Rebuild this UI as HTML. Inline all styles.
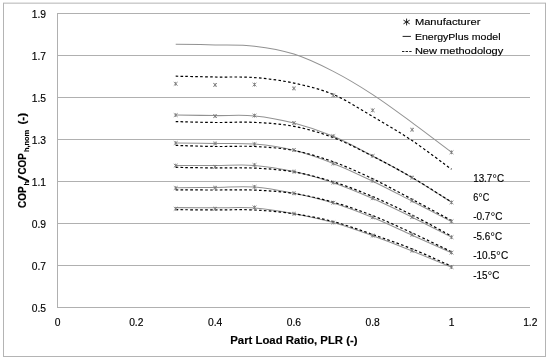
<!DOCTYPE html>
<html><head><meta charset="utf-8"><title>COP chart</title>
<style>
html,body{margin:0;padding:0;background:#fff;width:550px;height:362px;overflow:hidden}
svg{display:block}
text{font-family:"Liberation Sans",sans-serif;font-size:10.3px;fill:#000;stroke:#000;stroke-width:0.15px}
.b{font-weight:bold}
</style></head><body>
<svg width="550" height="362" viewBox="0 0 550 362">
<rect x="0" y="0" width="550" height="362" fill="#fff"/>
<rect x="3.5" y="3.15" width="542" height="353.35" fill="none" stroke="#b4b4b4" stroke-width="1"/>
<g stroke="#b0b0b0" stroke-width="1" fill="none"><path d="M57,13.5H530"/><path d="M57,55.5H530"/><path d="M57,97.5H530"/><path d="M57,139.5H530"/><path d="M57,181.5H530"/><path d="M57,223.5H530"/><path d="M57,265.5H530"/><path d="M57,307.5H530"/></g>
<path d="M57.5,13V308" stroke="#b0b0b0" stroke-width="1" fill="none"/>
<g stroke="#929292" stroke-width="1.05" fill="none"><path d="M175.70,44.20 C182.27,44.32 201.97,44.57 215.10,44.90 C228.23,45.23 241.37,44.67 254.50,46.20 C267.63,47.73 280.77,49.90 293.90,54.10 C307.03,58.30 320.17,64.65 333.30,71.40 C346.43,78.15 359.57,86.07 372.70,94.60 C385.83,103.13 398.97,112.98 412.10,122.60 C425.23,132.22 444.93,147.35 451.50,152.30"/><path d="M175.70,115.00 C182.27,115.10 201.97,115.45 215.10,115.60 C228.23,115.75 241.37,114.67 254.50,115.90 C267.63,117.13 280.77,119.60 293.90,123.00 C307.03,126.40 320.17,130.80 333.30,136.30 C346.43,141.80 359.57,149.12 372.70,156.00 C385.83,162.88 398.97,169.88 412.10,177.60 C425.23,185.32 444.93,198.18 451.50,202.30"/><path d="M175.70,143.00 C182.27,143.08 201.97,143.32 215.10,143.50 C228.23,143.68 241.37,142.98 254.50,144.10 C267.63,145.22 280.77,146.98 293.90,150.20 C307.03,153.42 320.17,158.23 333.30,163.40 C346.43,168.57 359.57,174.90 372.70,181.20 C385.83,187.50 398.97,194.47 412.10,201.20 C425.23,207.93 444.93,218.20 451.50,221.60"/><path d="M175.70,165.40 C182.27,165.42 201.97,165.50 215.10,165.50 C228.23,165.50 241.37,164.40 254.50,165.40 C267.63,166.40 280.77,168.60 293.90,171.50 C307.03,174.40 320.17,178.28 333.30,182.80 C346.43,187.32 359.57,192.87 372.70,198.60 C385.83,204.33 398.97,210.77 412.10,217.20 C425.23,223.63 444.93,233.87 451.50,237.20"/><path d="M175.70,187.80 C182.27,187.73 201.97,187.53 215.10,187.40 C228.23,187.27 241.37,186.02 254.50,187.00 C267.63,187.98 280.77,190.62 293.90,193.30 C307.03,195.98 320.17,199.05 333.30,203.10 C346.43,207.15 359.57,212.25 372.70,217.60 C385.83,222.95 398.97,229.33 412.10,235.20 C425.23,241.07 444.93,249.87 451.50,252.80"/><path d="M175.70,207.60 C182.27,207.63 201.97,207.73 215.10,207.80 C228.23,207.87 241.37,207.02 254.50,208.00 C267.63,208.98 280.77,211.27 293.90,213.70 C307.03,216.13 320.17,218.92 333.30,222.60 C346.43,226.28 359.57,231.07 372.70,235.80 C385.83,240.53 398.97,245.77 412.10,251.00 C425.23,256.23 444.93,264.50 451.50,267.20"/></g>
<g stroke="#000" stroke-width="1.2" fill="none" stroke-dasharray="2.6,2.3"><path d="M175.70,76.20 C182.27,76.33 201.97,76.77 215.10,77.00 C228.23,77.23 241.37,76.58 254.50,77.60 C267.63,78.62 280.77,80.28 293.90,83.10 C307.03,85.92 320.17,88.93 333.30,94.50 C346.43,100.07 359.57,108.82 372.70,116.50 C385.83,124.18 398.97,131.80 412.10,140.60 C425.23,149.40 444.93,164.52 451.50,169.30"/><path d="M175.70,121.60 C182.27,121.75 201.97,122.37 215.10,122.50 C228.23,122.63 241.37,121.77 254.50,122.40 C267.63,123.03 280.77,123.77 293.90,126.30 C307.03,128.83 320.17,132.62 333.30,137.60 C346.43,142.58 359.57,149.55 372.70,156.20 C385.83,162.85 398.97,169.87 412.10,177.50 C425.23,185.13 444.93,197.92 451.50,202.00"/><path d="M175.70,145.40 C182.27,145.58 201.97,146.32 215.10,146.50 C228.23,146.68 241.37,145.83 254.50,146.50 C267.63,147.17 280.77,147.95 293.90,150.50 C307.03,153.05 320.17,157.08 333.30,161.80 C346.43,166.52 359.57,172.55 372.70,178.80 C385.83,185.05 398.97,192.33 412.10,199.30 C425.23,206.27 444.93,217.05 451.50,220.60"/><path d="M175.70,167.40 C182.27,167.48 201.97,167.78 215.10,167.90 C228.23,168.02 241.37,167.43 254.50,168.10 C267.63,168.77 280.77,169.62 293.90,171.90 C307.03,174.18 320.17,177.68 333.30,181.80 C346.43,185.92 359.57,191.07 372.70,196.60 C385.83,202.13 398.97,208.40 412.10,215.00 C425.23,221.60 444.93,232.67 451.50,236.20"/><path d="M175.70,189.90 C182.27,189.92 201.97,189.97 215.10,190.00 C228.23,190.03 241.37,189.52 254.50,190.10 C267.63,190.68 280.77,191.48 293.90,193.50 C307.03,195.52 320.17,198.52 333.30,202.20 C346.43,205.88 359.57,210.48 372.70,215.60 C385.83,220.72 398.97,226.87 412.10,232.90 C425.23,238.93 444.93,248.65 451.50,251.80"/><path d="M175.70,209.70 C182.27,209.73 201.97,209.85 215.10,209.90 C228.23,209.95 241.37,209.35 254.50,210.00 C267.63,210.65 280.77,211.87 293.90,213.80 C307.03,215.73 320.17,218.15 333.30,221.60 C346.43,225.05 359.57,229.95 372.70,234.50 C385.83,239.05 398.97,243.62 412.10,248.90 C425.23,254.18 444.93,263.32 451.50,266.20"/></g>
<g stroke="#7a7a7a" stroke-width="0.9" fill="none"><path d="M173.80,82.00 l3.8,3.6 M177.60,82.00 l-3.8,3.6 M175.70,81.90 v3.8"/><path d="M213.20,83.10 l3.8,3.6 M217.00,83.10 l-3.8,3.6 M215.10,83.00 v3.8"/><path d="M252.60,82.80 l3.8,3.6 M256.40,82.80 l-3.8,3.6 M254.50,82.70 v3.8"/><path d="M292.00,86.60 l3.8,3.6 M295.80,86.60 l-3.8,3.6 M293.90,86.50 v3.8"/><path d="M331.40,93.50 l3.8,3.6 M335.20,93.50 l-3.8,3.6 M333.30,93.40 v3.8"/><path d="M370.80,108.50 l3.8,3.6 M374.60,108.50 l-3.8,3.6 M372.70,108.40 v3.8"/><path d="M410.20,127.90 l3.8,3.6 M414.00,127.90 l-3.8,3.6 M412.10,127.80 v3.8"/><path d="M449.60,150.50 l3.8,3.6 M453.40,150.50 l-3.8,3.6 M451.50,150.40 v3.8"/><path d="M173.80,113.30 l3.8,3.6 M177.60,113.30 l-3.8,3.6 M175.70,113.20 v3.8"/><path d="M213.20,114.30 l3.8,3.6 M217.00,114.30 l-3.8,3.6 M215.10,114.20 v3.8"/><path d="M252.60,113.80 l3.8,3.6 M256.40,113.80 l-3.8,3.6 M254.50,113.70 v3.8"/><path d="M292.00,121.20 l3.8,3.6 M295.80,121.20 l-3.8,3.6 M293.90,121.10 v3.8"/><path d="M331.40,134.30 l3.8,3.6 M335.20,134.30 l-3.8,3.6 M333.30,134.20 v3.8"/><path d="M370.80,154.10 l3.8,3.6 M374.60,154.10 l-3.8,3.6 M372.70,154.00 v3.8"/><path d="M410.20,175.80 l3.8,3.6 M414.00,175.80 l-3.8,3.6 M412.10,175.70 v3.8"/><path d="M449.60,200.60 l3.8,3.6 M453.40,200.60 l-3.8,3.6 M451.50,200.50 v3.8"/><path d="M173.80,141.20 l3.8,3.6 M177.60,141.20 l-3.8,3.6 M175.70,141.10 v3.8"/><path d="M213.20,141.70 l3.8,3.6 M217.00,141.70 l-3.8,3.6 M215.10,141.60 v3.8"/><path d="M252.60,142.30 l3.8,3.6 M256.40,142.30 l-3.8,3.6 M254.50,142.20 v3.8"/><path d="M292.00,148.20 l3.8,3.6 M295.80,148.20 l-3.8,3.6 M293.90,148.10 v3.8"/><path d="M331.40,161.70 l3.8,3.6 M335.20,161.70 l-3.8,3.6 M333.30,161.60 v3.8"/><path d="M370.80,179.00 l3.8,3.6 M374.60,179.00 l-3.8,3.6 M372.70,178.90 v3.8"/><path d="M410.20,198.80 l3.8,3.6 M414.00,198.80 l-3.8,3.6 M412.10,198.70 v3.8"/><path d="M449.60,219.50 l3.8,3.6 M453.40,219.50 l-3.8,3.6 M451.50,219.40 v3.8"/><path d="M173.80,163.80 l3.8,3.6 M177.60,163.80 l-3.8,3.6 M175.70,163.70 v3.8"/><path d="M213.20,165.00 l3.8,3.6 M217.00,165.00 l-3.8,3.6 M215.10,164.90 v3.8"/><path d="M252.60,163.20 l3.8,3.6 M256.40,163.20 l-3.8,3.6 M254.50,163.10 v3.8"/><path d="M292.00,169.80 l3.8,3.6 M295.80,169.80 l-3.8,3.6 M293.90,169.70 v3.8"/><path d="M331.40,180.80 l3.8,3.6 M335.20,180.80 l-3.8,3.6 M333.30,180.70 v3.8"/><path d="M370.80,196.40 l3.8,3.6 M374.60,196.40 l-3.8,3.6 M372.70,196.30 v3.8"/><path d="M410.20,215.30 l3.8,3.6 M414.00,215.30 l-3.8,3.6 M412.10,215.20 v3.8"/><path d="M449.60,235.40 l3.8,3.6 M453.40,235.40 l-3.8,3.6 M451.50,235.30 v3.8"/><path d="M173.80,186.20 l3.8,3.6 M177.60,186.20 l-3.8,3.6 M175.70,186.10 v3.8"/><path d="M213.20,185.90 l3.8,3.6 M217.00,185.90 l-3.8,3.6 M215.10,185.80 v3.8"/><path d="M252.60,185.10 l3.8,3.6 M256.40,185.10 l-3.8,3.6 M254.50,185.00 v3.8"/><path d="M292.00,191.50 l3.8,3.6 M295.80,191.50 l-3.8,3.6 M293.90,191.40 v3.8"/><path d="M331.40,200.90 l3.8,3.6 M335.20,200.90 l-3.8,3.6 M333.30,200.80 v3.8"/><path d="M370.80,215.50 l3.8,3.6 M374.60,215.50 l-3.8,3.6 M372.70,215.40 v3.8"/><path d="M410.20,232.90 l3.8,3.6 M414.00,232.90 l-3.8,3.6 M412.10,232.80 v3.8"/><path d="M449.60,250.80 l3.8,3.6 M453.40,250.80 l-3.8,3.6 M451.50,250.70 v3.8"/><path d="M173.80,207.00 l3.8,3.6 M177.60,207.00 l-3.8,3.6 M175.70,206.90 v3.8"/><path d="M213.20,206.90 l3.8,3.6 M217.00,206.90 l-3.8,3.6 M215.10,206.80 v3.8"/><path d="M252.60,205.60 l3.8,3.6 M256.40,205.60 l-3.8,3.6 M254.50,205.50 v3.8"/><path d="M292.00,211.90 l3.8,3.6 M295.80,211.90 l-3.8,3.6 M293.90,211.80 v3.8"/><path d="M331.40,220.70 l3.8,3.6 M335.20,220.70 l-3.8,3.6 M333.30,220.60 v3.8"/><path d="M370.80,233.80 l3.8,3.6 M374.60,233.80 l-3.8,3.6 M372.70,233.70 v3.8"/><path d="M410.20,248.80 l3.8,3.6 M414.00,248.80 l-3.8,3.6 M412.10,248.70 v3.8"/><path d="M449.60,265.30 l3.8,3.6 M453.40,265.30 l-3.8,3.6 M451.50,265.20 v3.8"/></g>
<g><text x="46.1" y="17.5" text-anchor="end">1.9</text><text x="46.1" y="59.5" text-anchor="end">1.7</text><text x="46.1" y="101.5" text-anchor="end">1.5</text><text x="46.1" y="143.5" text-anchor="end">1.3</text><text x="46.1" y="185.5" text-anchor="end">1.1</text><text x="46.1" y="227.5" text-anchor="end">0.9</text><text x="46.1" y="269.5" text-anchor="end">0.7</text><text x="46.1" y="311.5" text-anchor="end">0.5</text></g>
<g><text x="57.5" y="326.1" text-anchor="middle">0</text><text x="136.3" y="326.1" text-anchor="middle">0.2</text><text x="215.1" y="326.1" text-anchor="middle">0.4</text><text x="293.9" y="326.1" text-anchor="middle">0.6</text><text x="372.7" y="326.1" text-anchor="middle">0.8</text><text x="451.5" y="326.1" text-anchor="middle">1</text><text x="530.3" y="326.1" text-anchor="middle">1.2</text></g>
<g><text x="473.2" y="181.6" textLength="31.0" lengthAdjust="spacingAndGlyphs">13.7<tspan style="font-size:12.5px;stroke-width:0" dy="1.0">°</tspan><tspan dy="-1.0">C</tspan></text><text x="473.2" y="200.9" textLength="16.0" lengthAdjust="spacingAndGlyphs">6<tspan style="font-size:12.5px;stroke-width:0" dy="1.0">°</tspan><tspan dy="-1.0">C</tspan></text><text x="473.2" y="220.4" textLength="29.3" lengthAdjust="spacingAndGlyphs">-0.7<tspan style="font-size:12.5px;stroke-width:0" dy="1.0">°</tspan><tspan dy="-1.0">C</tspan></text><text x="473.2" y="239.8" textLength="29.0" lengthAdjust="spacingAndGlyphs">-5.6<tspan style="font-size:12.5px;stroke-width:0" dy="1.0">°</tspan><tspan dy="-1.0">C</tspan></text><text x="473.2" y="259.4" textLength="35.0" lengthAdjust="spacingAndGlyphs">-10.5<tspan style="font-size:12.5px;stroke-width:0" dy="1.0">°</tspan><tspan dy="-1.0">C</tspan></text><text x="473.2" y="278.6" textLength="26.2" lengthAdjust="spacingAndGlyphs">-15<tspan style="font-size:12.5px;stroke-width:0" dy="1.0">°</tspan><tspan dy="-1.0">C</tspan></text></g>
<g>
<text x="414.9" y="25.2" style="font-size:9.9px" textLength="65.5" lengthAdjust="spacingAndGlyphs">Manufacturer</text>
<text x="414.9" y="39.5" style="font-size:9.9px" textLength="85.6" lengthAdjust="spacingAndGlyphs">EnergyPlus model</text>
<text x="414.9" y="53.8" style="font-size:9.9px" textLength="88.4" lengthAdjust="spacingAndGlyphs">New methodology</text>
<g stroke="#222" stroke-width="1" fill="none">
<path d="M406.6,18.6V25.4 M403.5,20.2L409.7,23.8 M403.5,23.8L409.7,20.2"/>
<path d="M402.6,36.4H410.9"/>
<path d="M402,51.5H404.4 M405.6,51.5H408 M409.2,51.5H411.6"/>
</g>
</g>
<text class="b" x="230.3" y="344.2" textLength="127.2" lengthAdjust="spacingAndGlyphs" style="font-size:10.8px">Part Load Ratio, PLR (-)</text>
<g transform="translate(25.6,207.9) rotate(-90)" class="b" style="font-size:11px">
<text class="b" x="0" y="0" textLength="21.6" lengthAdjust="spacingAndGlyphs">COP</text>
<text class="b" x="22.3" y="3.3" style="font-size:7.4px">h</text>
<text transform="translate(25.6,3.0) scale(1.7,1)" x="0" y="0" style="font-size:15px;font-weight:normal;stroke-width:0.1px">/</text>
<text class="b" x="33.4" y="0" textLength="21.4" lengthAdjust="spacingAndGlyphs">COP</text>
<text class="b" x="55.8" y="3.3" style="font-size:7.4px" textLength="22.3" lengthAdjust="spacingAndGlyphs">h,nom</text>
<text class="b" x="83.4" y="0" textLength="11.6" lengthAdjust="spacingAndGlyphs">(-)</text>
</g>
</svg>
</body></html>
